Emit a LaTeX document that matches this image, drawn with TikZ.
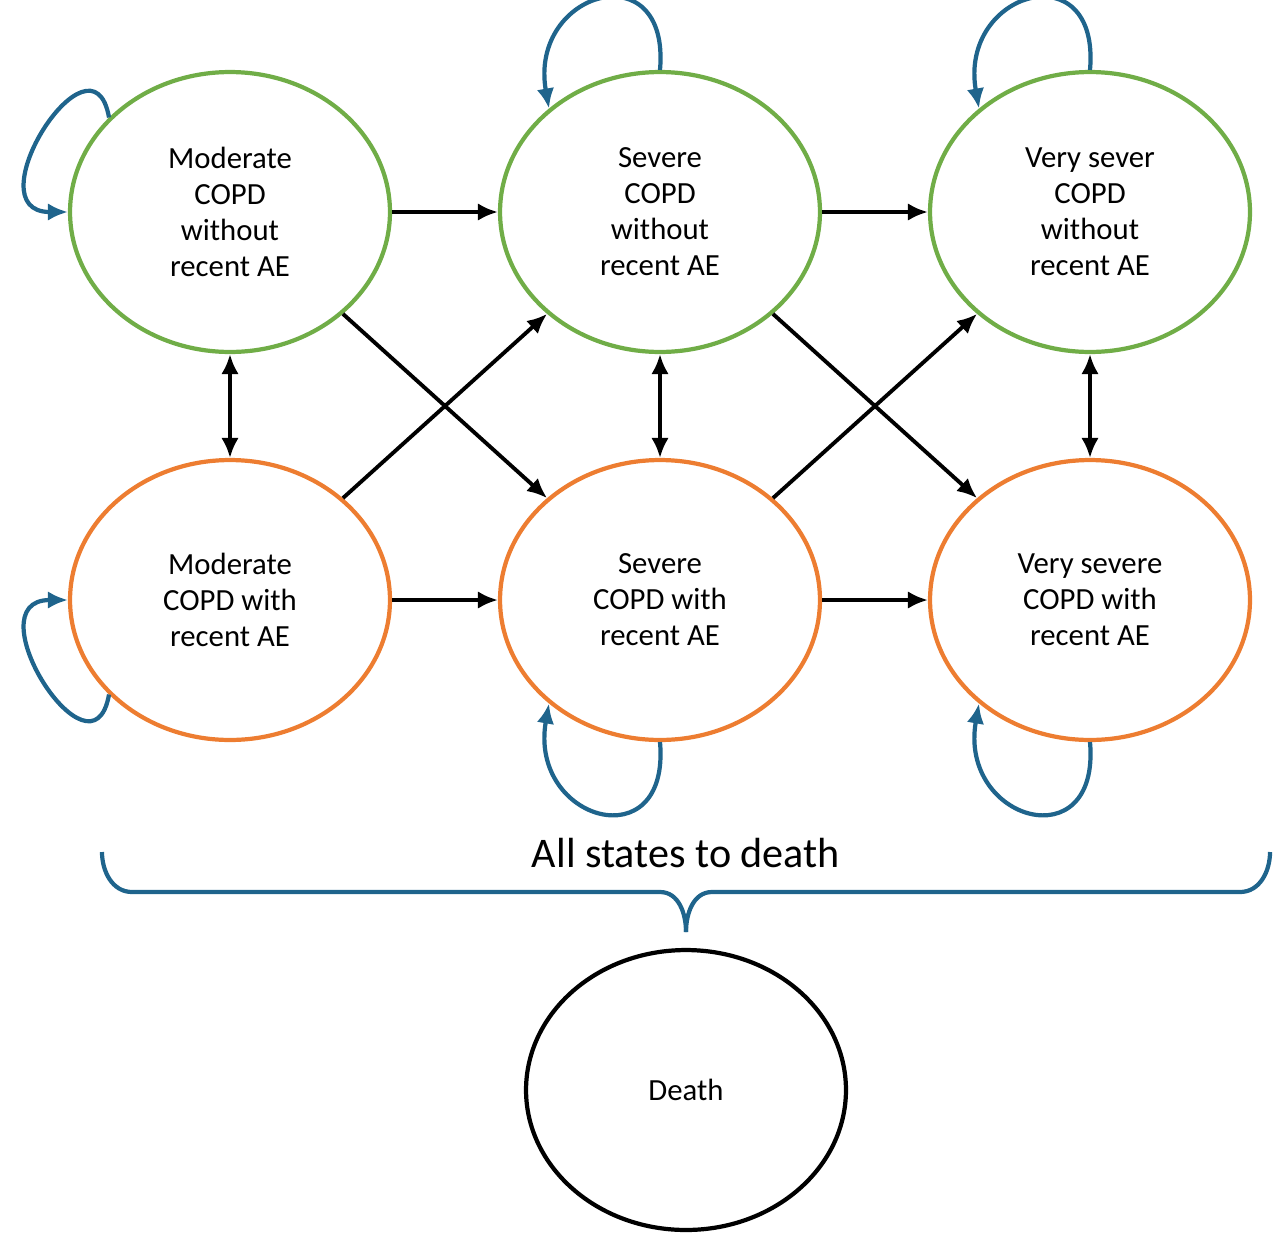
\documentclass[tikz,border=0pt]{standalone}
\usepackage{fontspec}
\setmainfont{Carlito}
\usetikzlibrary{arrows.meta}
\definecolor{stgreen}{RGB}{112,173,71}
\definecolor{storange}{RGB}{237,125,49}
\definecolor{loopblue}{RGB}{31,100,140}
\tikzset{
  state/.style={ellipse, draw, line width=2.4pt, minimum width=6.4cm, minimum height=5.6cm,
    inner sep=0pt, align=center, font=\fontsize{17.5}{20.5}\selectfont},
  trans/.style={-{Latex[length=4mm,width=3.5mm]}, line width=2.2pt},
  both/.style={{Latex[length=4mm,width=3.5mm]}-{Latex[length=4mm,width=3.5mm]}, line width=2.2pt},
  self/.style={-{Latex[length=4mm,width=3.5mm]}, line width=2.4pt, loopblue}
}
\usetikzlibrary{shapes.geometric}
\begin{document}
\begin{tikzpicture}[x=0.02cm, y=-0.02cm]
  \useasboundingbox (0,0) rectangle (1280,1234);
  \node[state, draw=stgreen] (mod1) at (230,212) {Moderate\\COPD\\without\\recent AE};
  \node[state, draw=stgreen] (sev1) at (660,212) {Severe\\COPD\\without\\recent AE};
  \node[state, draw=stgreen] (vsv1) at (1090,212) {Very sever\\COPD\\without\\recent AE};
  \node[state, draw=storange] (mod2) at (230,600) {Moderate\\COPD with\\recent AE};
  \node[state, draw=storange] (sev2) at (660,600) {Severe\\COPD with\\recent AE};
  \node[state, draw=storange] (vsv2) at (1090,600) {Very severe\\COPD with\\recent AE};
  \node[state] (death) at (686,1090) {Death};
  \node[font=\fontsize{24}{28}\selectfont] (lab) at (686,853) {All states to death};

  \draw[trans] (mod1) -- (sev1);
  \draw[trans] (sev1) -- (vsv1);
  \draw[trans] (mod2) -- (sev2);
  \draw[trans] (sev2) -- (vsv2);
  \draw[trans] (mod1) -- (sev2);
  \draw[trans] (mod2) -- (sev1);
  \draw[trans] (sev1) -- (vsv2);
  \draw[trans] (sev2) -- (vsv1);
  \draw[both] (mod1) -- (mod2);
  \draw[both] (sev1) -- (sev2);
  \draw[both] (vsv1) -- (vsv2);

  \draw[self] (mod1.142) to[out=100, in=180, looseness=2.4] (mod1.west);
  \draw[self] (mod2.-142) to[out=-100, in=180, looseness=2.4] (mod2.west);
  \draw[self] (sev1.north) to[out=85, in=100, looseness=2.6] (sev1.137);
  \draw[self] (vsv1.north) to[out=85, in=100, looseness=2.6] (vsv1.137);
  \draw[self] (sev2.south) to[out=-85, in=-100, looseness=2.6] (sev2.-137);
  \draw[self] (vsv2.south) to[out=-85, in=-100, looseness=2.6] (vsv2.-137);

  % brace
  \draw[loopblue, line width=2.4pt] (102,852) to[out=-90, in=180] (132,892) -- (660,892)
    to[out=0, in=90] (686,932);
  \draw[loopblue, line width=2.4pt] (1270,852) to[out=-90, in=0] (1240,892) -- (712,892)
    to[out=180, in=90] (686,932);
\end{tikzpicture}
\end{document}
